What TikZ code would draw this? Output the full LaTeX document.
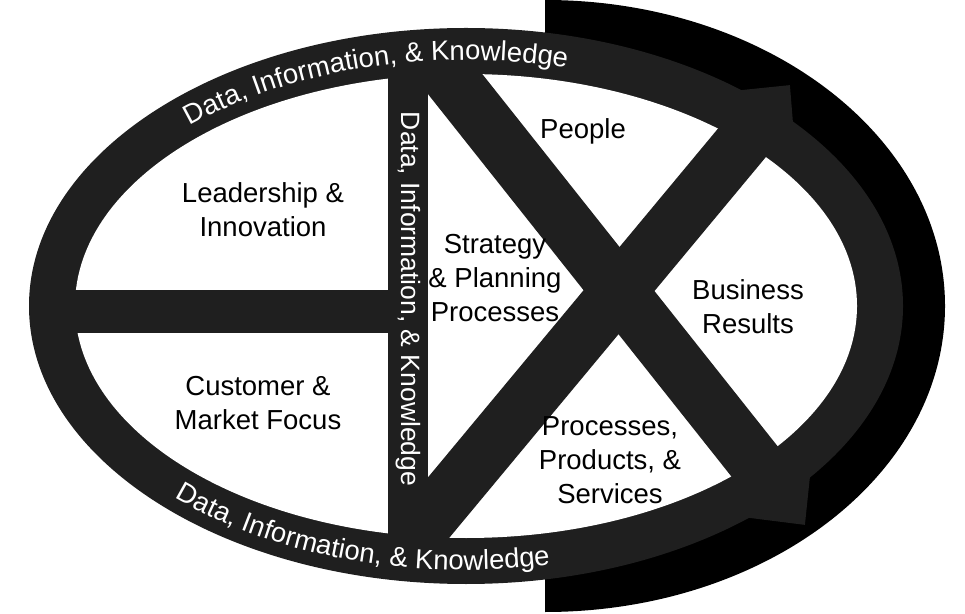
\documentclass[tikz,border=0pt]{standalone}
\usepackage{fontspec}
\setmainfont{Liberation Sans}
\usetikzlibrary{arrows.meta,decorations.text}
\definecolor{ringgray}{HTML}{1F1F1F}
\newcommand{\labfont}{\fontsize{27.5}{34}\selectfont}
\newcommand{\ringfont}{\fontsize{27.5}{34}\selectfont}
\tikzset{
  lab/.style={align=center,font=\labfont,text=black,inner sep=0pt},
  band/.style={draw=ringgray,line width=55pt},
  ringtext/.style={decorate,decoration={text along path,text align=center,text color=white,
     text={|\ringfont|Data, Information, {\&} Knowledge}}}
}
\begin{document}
\begin{tikzpicture}[x=1pt,y=1pt]
\useasboundingbox (0,0) rectangle (965,613);
% black back half ellipse
\fill[black] (545,1) arc[start angle=-90,end angle=90,x radius=400,y radius=306] -- cycle;
% ring
\fill[ringgray] (466,307) ellipse[x radius=437,y radius=278];
\fill[white] (466,307) ellipse[x radius=391,y radius=232];
% bars
\fill[ringgray] (40,280) rectangle (395,323);
\fill[ringgray] (388,60) rectangle (428,560);
% X bands
\draw[band,-{Triangle[width=85pt,length=45pt]}] (440,548) -- (805,88);
\draw[band,-{Triangle[width=85pt,length=45pt]}] (410,71) -- (790,528);
% ring texts
\path[ringtext] ([shift={(466,307)}]168:405 and 246) arc[start angle=168,end angle=48,x radius=405,y radius=246];
\path[ringtext] ([shift={(466,307)}]190:424 and 264) arc[start angle=190,end angle=310,x radius=424,y radius=264];
\node[font=\fontsize{26.5}{30}\selectfont,text=white,rotate=-90] (vt) at (408,314) {Data, Information, \& Knowledge};
% labels
\node[lab] (lead) at (263,403) {Leadership \&\\Innovation};
\node[lab] (cust) at (258,210) {Customer \&\\Market Focus};
\node[lab] (strat) at (495,335) {Strategy\\\& Planning\\Processes};
\node[lab] (people) at (583,482) {People};
\node[lab] (bus) at (748,306) {Business\\Results};
\node[lab] (proc) at (610,153) {Processes,\\Products, \&\\Services};
\end{tikzpicture}
\end{document}
